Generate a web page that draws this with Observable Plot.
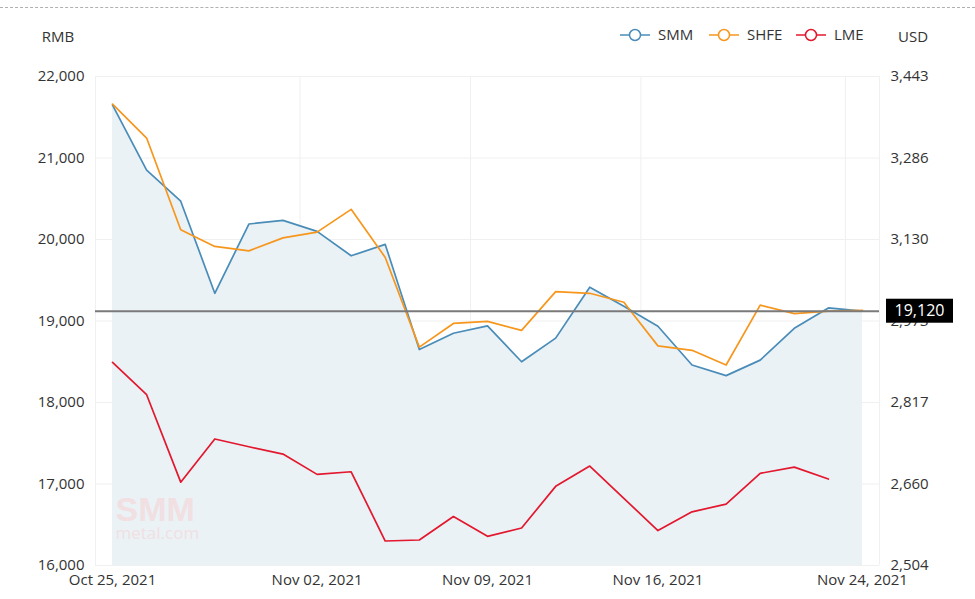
<!DOCTYPE html>
<html><head><meta charset="utf-8">
<script src="https://cdn.jsdelivr.net/npm/d3@7"></script>
<script src="https://cdn.jsdelivr.net/npm/@observablehq/plot@0.6"></script>
<style>
body{margin:0;background:#fff;font-family:"Open Sans",sans-serif;}
#wrap{position:relative;width:975px;height:599px;}
#dash{position:absolute;left:0;top:7px;width:975px;border-top:1px dashed #b0b0b0;}
</style></head><body><div id="wrap"><div id="dash"></div></div>
<script>
const dates = ["Oct 25, 2021","Oct 26, 2021","Oct 27, 2021","Oct 28, 2021","Oct 29, 2021",
  "Nov 01, 2021","Nov 02, 2021","Nov 03, 2021","Nov 04, 2021","Nov 05, 2021",
  "Nov 08, 2021","Nov 09, 2021","Nov 10, 2021","Nov 11, 2021","Nov 12, 2021",
  "Nov 15, 2021","Nov 16, 2021","Nov 17, 2021","Nov 18, 2021","Nov 19, 2021",
  "Nov 22, 2021","Nov 23, 2021","Nov 24, 2021"];
const smm  = [21650,20850,20470,19340,20190,20235,20100,19800,19940,18650,18850,18940,18500,18790,19415,19180,18935,18460,18330,18520,18910,19160,19120];
const shfe = [21660,21245,20120,19915,19860,20020,20090,20370,19780,18680,18970,18995,18885,19360,19340,19230,18695,18640,18460,19195,19090,19120,19130];
const lme  = [2894,2832,2664,2747,2732,2718,2679,2684,2551,2553,2598,2560,2576,2656,2695,2633,2571,2607,2622,2681,2693,2670,null];
const seriesNames = ["SMM","SHFE","LME"];
const seriesColors = ["#4a8cb8","#f7961c","#e3172d"];
const rmbDomain = [16000, 22000];
const usdDomain = [2504, 3443];
const rmbTicks = [16000,17000,18000,19000,20000,21000,22000];
const usdTickLabels = ["2,504","2,660","2,817","2,973","3,130","3,286","3,443"];
const xTickIndex = [0,6,11,16,22];
const xGrid = [-0.5,5.5,10.5,15.5,21.5,22.5];
const refValue = 19120;
const refLabel = "19,120";

// LME (USD) mapped onto the RMB scale (dual axis)
const toRmb = v => v == null ? null : rmbDomain[0] + (v - usdDomain[0]) / (usdDomain[1] - usdDomain[0]) * (rmbDomain[1] - rmbDomain[0]);
const rows = [];
dates.forEach((d, i) => {
  rows.push({i, s: "SMM", v: smm[i]});
  rows.push({i, s: "SHFE", v: shfe[i]});
  rows.push({i, s: "LME", v: toRmb(lme[i])});
});
const smmRows = rows.filter(r => r.s === "SMM");

const font = "Open Sans, sans-serif";
const plot = Plot.plot({
  width: 975, height: 599,
  marginLeft: 95, marginRight: 96, marginTop: 76, marginBottom: 34,
  style: {fontFamily: font, fontSize: "15px", color: "#333", background: "transparent"},
  x: {type: "linear", domain: [-0.5, 22.5], label: null},
  y: {domain: rmbDomain, label: null},
  marks: [
    Plot.ruleY(rmbTicks, {stroke: "#f0f0f0", strokeWidth: 1}),
    Plot.ruleX(xGrid, {stroke: "#f0f0f0", strokeWidth: 1}),
    Plot.areaY(smmRows, {x: "i", y1: d => rmbDomain[0], y2: "v", fill: "#eaf2f6"}),
    Plot.text(["SMM"], {frameAnchor: "bottom-left", dx: 20, dy: -55, textAnchor: "start", lineAnchor: "middle", fontSize: 34, fontWeight: 900, fill: "#f1dfe2", fontFamily: "Liberation Sans, sans-serif", letterSpacing: -2}),
    Plot.text(["metal.com"], {frameAnchor: "bottom-left", dx: 20, dy: -32, textAnchor: "start", lineAnchor: "middle", fontSize: 17, fill: "#f1dfe2"}),
    ...seriesNames.map((name, k) => Plot.line(rows.filter(r => r.s === name), {x: "i", y: "v", stroke: seriesColors[k], strokeWidth: 1.7})),
    Plot.ruleY([refValue], {stroke: "#7a7a7a", strokeWidth: 2}),
    Plot.axisY(rmbTicks, {anchor: "left", tickSize: 0, tickPadding: 11, tickFormat: d3.format(",")}),
    Plot.axisY(rmbTicks, {anchor: "right", tickSize: 0, tickPadding: 11, tickFormat: d => usdTickLabels[rmbTicks.indexOf(d)]}),
    Plot.axisX(xTickIndex, {anchor: "bottom", tickSize: 0, tickPadding: 9, tickFormat: d => dates[d]})
  ]
});

const svg = d3.select(plot);
const xs = plot.scale("x"), ys = plot.scale("y");
// reference label box
const bx = xs.apply(22.5) + 7, by = ys.apply(refValue);
svg.append("rect").attr("x", bx).attr("y", by - 12).attr("width", 67).attr("height", 24).attr("fill", "#000");
svg.append("text").attr("x", bx + 33.5).attr("y", by).attr("dy", "0.35em").attr("text-anchor", "middle")
  .attr("fill", "#fff").style("font-size", "16px").style("font-family", font).text(refLabel);
// unit labels
svg.append("text").attr("x", 58).attr("y", 37).attr("dy", "0.35em").attr("text-anchor", "middle").attr("fill", "#333").style("font-size", "15px").text("RMB");
svg.append("text").attr("x", 913).attr("y", 37).attr("dy", "0.35em").attr("text-anchor", "middle").attr("fill", "#333").style("font-size", "15px").text("USD");
// legend
const legX = [635, 724, 811];
seriesNames.forEach((name, k) => {
  const g = svg.append("g");
  g.append("line").attr("x1", legX[k] - 15).attr("x2", legX[k] + 15).attr("y1", 35).attr("y2", 35).attr("stroke", seriesColors[k]).attr("stroke-width", 1.5);
  g.append("circle").attr("cx", legX[k]).attr("cy", 35).attr("r", 5.5).attr("fill", "#fff").attr("stroke", seriesColors[k]).attr("stroke-width", 1.5);
  g.append("text").attr("x", legX[k] + 23).attr("y", 35).attr("dy", "0.35em").attr("text-anchor", "start").attr("fill", "#333").style("font-size", "15px").text(name);
});
document.getElementById("wrap").appendChild(plot);
plot.style.position = "absolute"; plot.style.left = "0"; plot.style.top = "0";
</script></body></html>
